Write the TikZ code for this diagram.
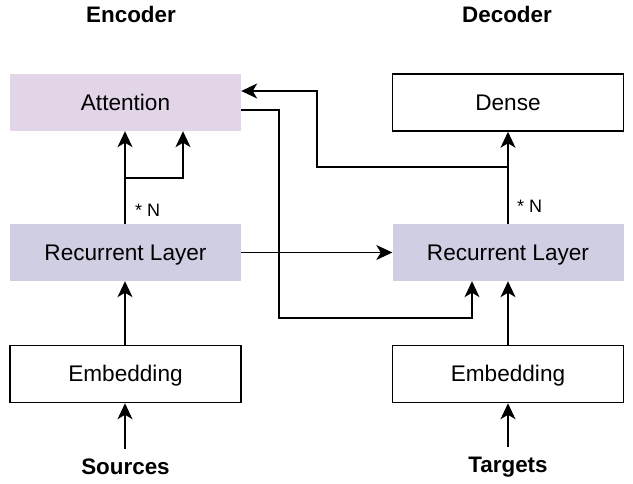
\documentclass[tikz,border=0pt]{standalone}
\usepackage{fontspec}
\setmainfont{Liberation Sans}
\usepackage{xcolor}
\usetikzlibrary{positioning,calc,arrows.meta}

\definecolor{attfill}{HTML}{E1D5E7}
\definecolor{rnnfill}{HTML}{D0CEE2}

\begin{document}
\begin{tikzpicture}[x=1pt, y=-1pt,
    font=\fontsize{22.6}{26}\selectfont,
    block/.style={minimum width=231pt, minimum height=57pt, inner sep=0pt,
        text height=18pt, text depth=2.4pt},
    plainblock/.style={block, draw=black, line width=1.5pt},
    attblock/.style={block, fill=attfill},
    rnnblock/.style={block, fill=rnnfill},
    title/.style={font=\fontsize{22.4}{26}\selectfont\bfseries, anchor=base},
    rep/.style={font=\fontsize{18}{22}\selectfont, anchor=base west, inner sep=0pt},
    arr/.style={line width=1.5pt, -{Stealth[length=16pt,width=15pt,inset=4.5pt]}},
    line/.style={line width=1.5pt}]
    \useasboundingbox (0,0) rectangle (633,484);

    % titles
    \node[title] (enctitle) at (131,23) {Encoder};
    \node[title] (dectitle) at (507,23) {Decoder};

    % encoder side
    \node[attblock] (att) at (125.5,102.5) {Attention};
    \node[rnnblock] (encrnn) at (125.5,252.5) {Recurrent Layer};
    \node[plainblock] (encemb) at (125.5,374) {Embedding};
    \node[title] (src) at (125.5,475) {Sources};

    % decoder side
    \node[plainblock] (dense) at (508,102.5) {Dense};
    \node[rnnblock] (decrnn) at (508,252.5) {Recurrent Layer};
    \node[plainblock] (decemb) at (508,374) {Embedding};
    \node[title] (tgt) at (508,472) {Targets};

    % repeat labels
    \node[rep] (encN) at (135,217) {* N};
    \node[rep] (decN) at (517,213) {* N};

    % inputs
    \draw[arr] (125,449) -- (encemb.south -| 125,0);
    \draw[arr] (508,447) -- (decemb.south);

    % encoder connections
    \draw[arr] (encemb.north -| 125,0) -- (encrnn.south -| 125,0);
    \draw[arr] (encrnn.north -| 125,0) -- (att.south -| 125,0);
    \coordinate (encsplit) at (125,178);
    \draw[arr] (encsplit) -| ([xshift=57.5pt]att.south);

    % decoder connections
    \draw[arr] (decemb.north) -- (decrnn.south);
    \draw[arr] (decrnn.north) -- (dense.south);
    \coordinate (decsplit) at (508,167);
    \draw[arr] (decsplit) -| (317,91) -- ([yshift=11.5pt]att.east);

    % encoder to decoder
    \draw[arr] (encrnn.east) -- (decrnn.west);
    \draw[arr] ([yshift=-7.5pt]att.east) -| (279,318) -| ([xshift=-36pt]decrnn.south);
\end{tikzpicture}
\end{document}
